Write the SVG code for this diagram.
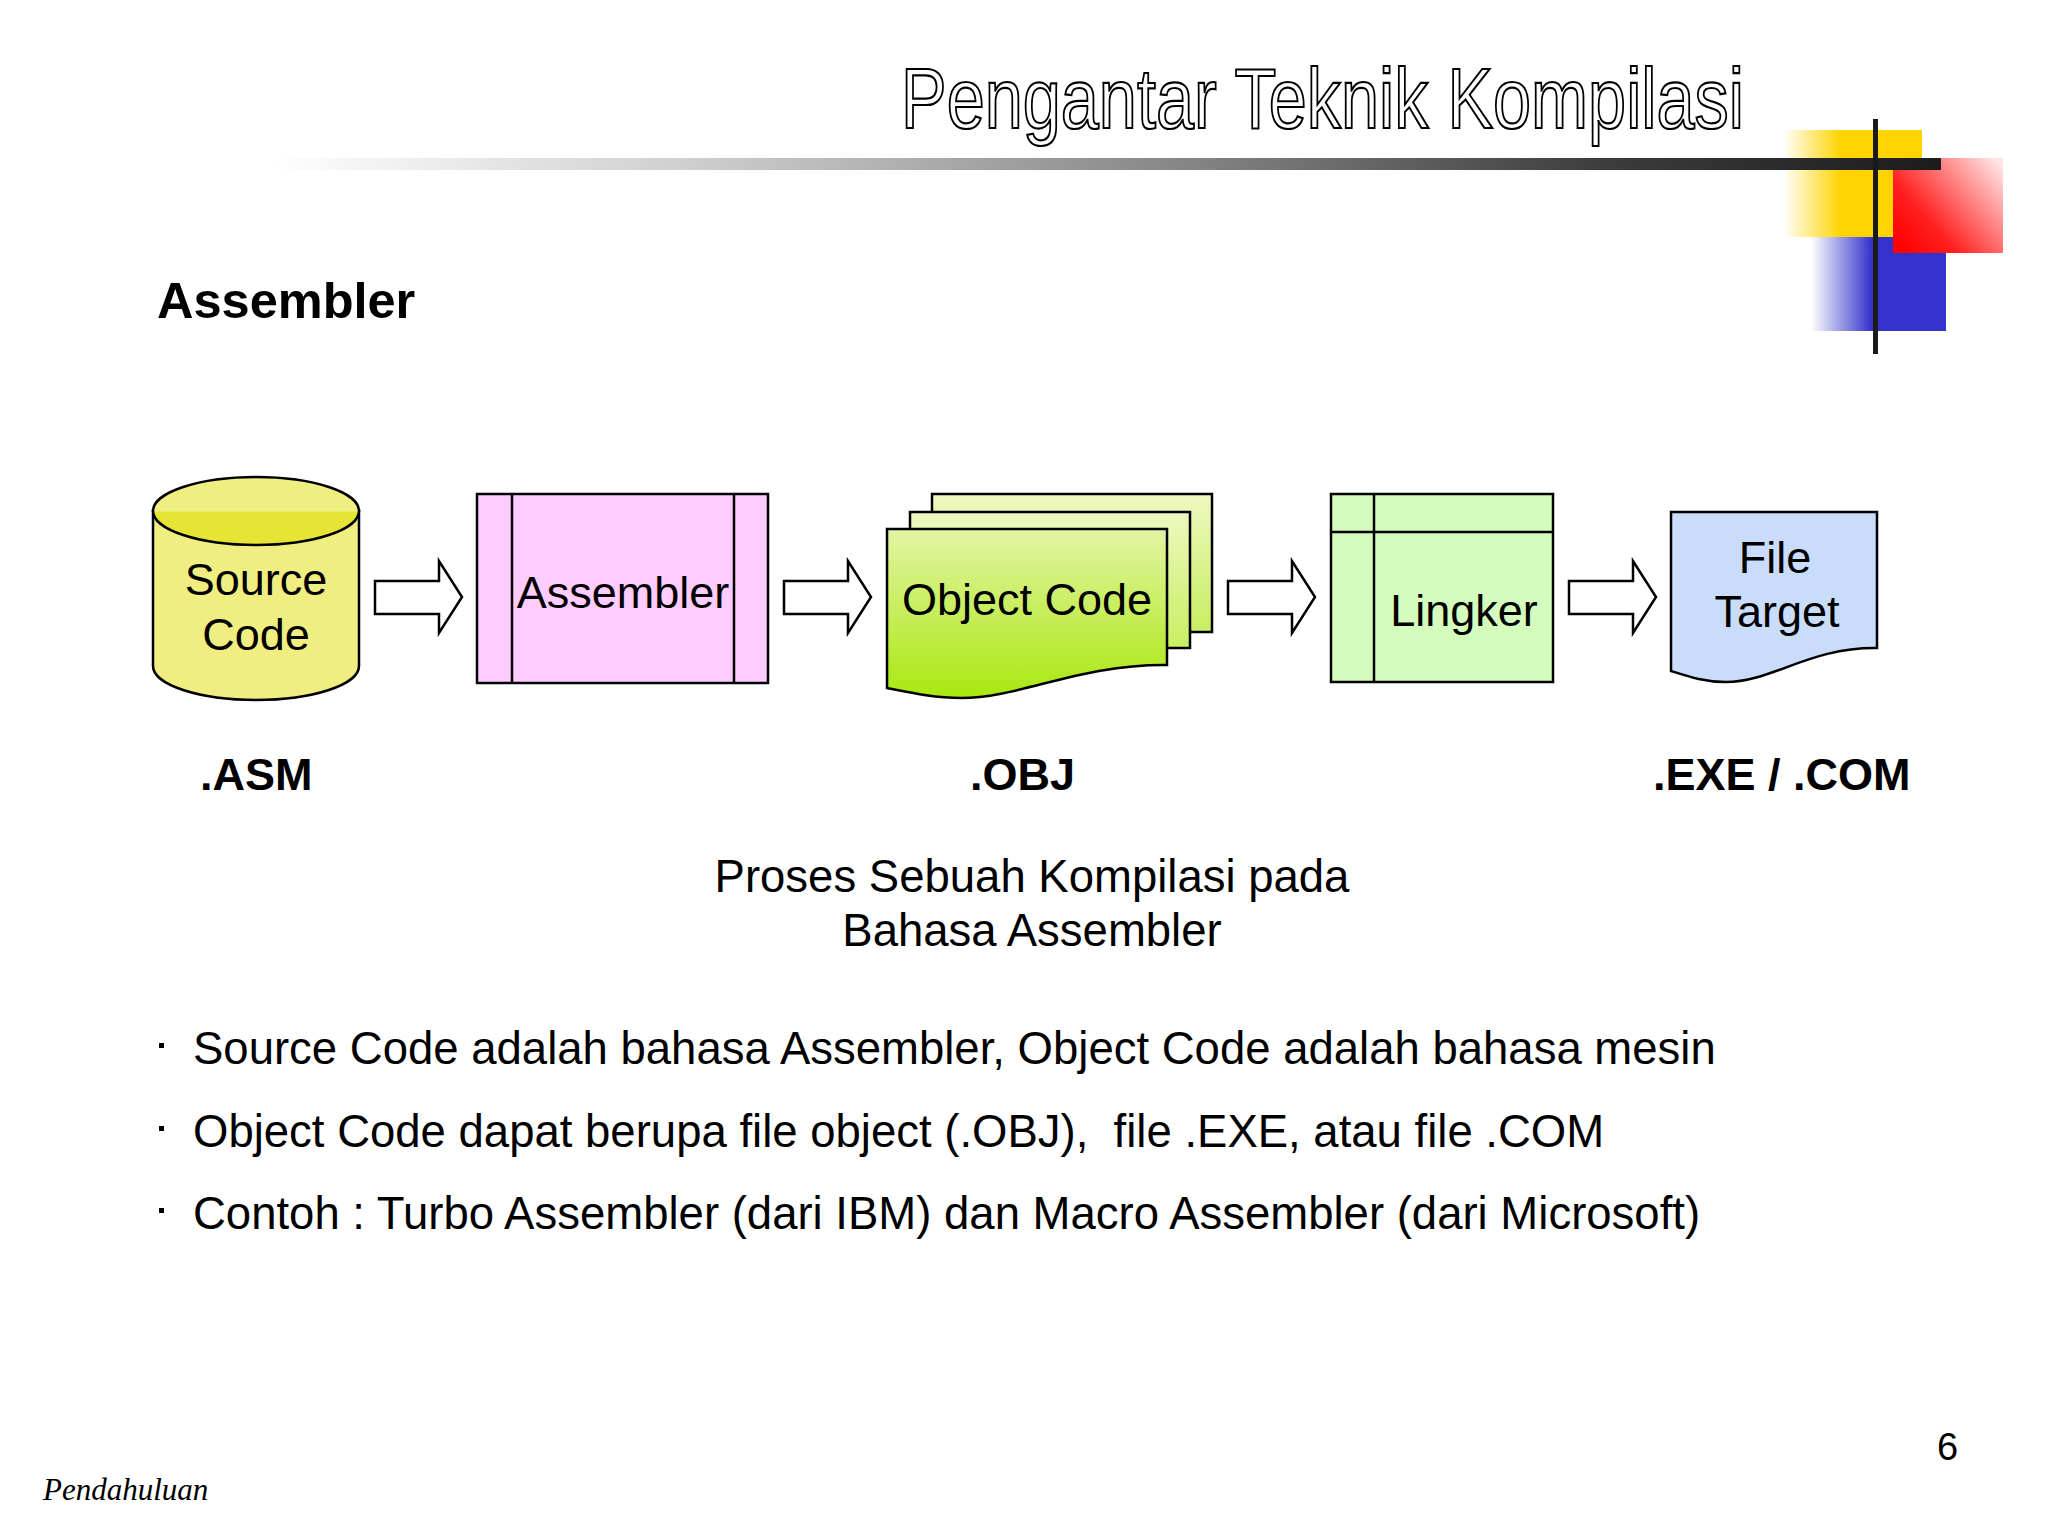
<svg xmlns="http://www.w3.org/2000/svg" width="2048" height="1536" viewBox="0 0 2048 1536">
<defs>
<linearGradient id="barG" x1="0" y1="0" x2="1" y2="0">
<stop offset="0" stop-color="#ffffff"/>
<stop offset="0.25" stop-color="#cfcfcf"/>
<stop offset="0.55" stop-color="#858585"/>
<stop offset="0.8" stop-color="#3c3c3c"/>
<stop offset="1" stop-color="#1c1c1c"/>
</linearGradient>
<linearGradient id="yelG" x1="0" y1="0" x2="1" y2="0">
<stop offset="0" stop-color="#FFD400" stop-opacity="0"/>
<stop offset="0.42" stop-color="#FFD400"/>
<stop offset="1" stop-color="#FFD400"/>
</linearGradient>
<linearGradient id="bluG" x1="0" y1="0" x2="1" y2="0">
<stop offset="0" stop-color="#3333CC" stop-opacity="0"/>
<stop offset="0.45" stop-color="#3333CC"/>
<stop offset="1" stop-color="#3333CC"/>
</linearGradient>
<linearGradient id="redG" x1="0" y1="0.85" x2="1" y2="0.1">
<stop offset="0" stop-color="#FF0000"/>
<stop offset="0.3" stop-color="#FF2020"/>
<stop offset="1" stop-color="#FFE4E4"/>
</linearGradient>
<linearGradient id="cylTop" x1="0" y1="0" x2="0" y2="1">
<stop offset="0" stop-color="#F0EE80"/>
<stop offset="0.5" stop-color="#F0EE80"/>
<stop offset="0.52" stop-color="#E6E434"/>
<stop offset="1" stop-color="#E6E434"/>
</linearGradient>
<linearGradient id="objFront" x1="0" y1="0" x2="0" y2="1">
<stop offset="0" stop-color="#E4F4A4"/>
<stop offset="1" stop-color="#A8E810"/>
</linearGradient>
<linearGradient id="objBack" x1="0" y1="0" x2="0" y2="1">
<stop offset="0" stop-color="#EEF8C0"/>
<stop offset="1" stop-color="#C8EE60"/>
</linearGradient>
<path id="blockArrow" d="M0,20 H64 V0 L87,36 L64,72 V53 H0 Z"/>
</defs>
<style>
.ln{stroke:#000;stroke-width:2.5}
.lbl{font-family:"Liberation Sans",Arial,sans-serif;font-size:45px;fill:#000}
.body{font-size:45.5px}
.b{font-weight:bold}
.arrow{fill:#fff;stroke:#000;stroke-width:2.5;stroke-linejoin:miter}
</style>
<rect width="2048" height="1536" fill="#ffffff"/>

<g id="header">
<text x="901" y="128" font-family="'Liberation Sans',Arial,sans-serif" font-size="85" fill="#fff" stroke="#000" stroke-width="2.2" textLength="843" lengthAdjust="spacingAndGlyphs">Pengantar Teknik Kompilasi</text>
<rect x="1783" y="130" width="139" height="107" fill="url(#yelG)"/>
<rect x="1811" y="237" width="135" height="94" fill="url(#bluG)"/>
<rect x="1893" y="158" width="110" height="95" fill="url(#redG)"/>
<rect x="268" y="158" width="1673" height="12" fill="url(#barG)"/>
<rect x="1873" y="119" width="5" height="235" fill="#1a1a1a"/>
</g>

<text x="157" y="318" class="lbl b" style="font-size:50.5px">Assembler</text>

<g id="source-code">
<path d="M153,511 V666 A103,34 0 0 0 359,666 V511 Z" fill="#F0EE80" class="ln"/>
<ellipse cx="256" cy="511" rx="103" ry="34" fill="url(#cylTop)" class="ln"/>
<text x="256" y="595" class="lbl" text-anchor="middle">Source</text>
<text x="256" y="650" class="lbl" text-anchor="middle">Code</text>
</g>

<g id="assembler">
<rect x="477" y="494" width="291" height="189" fill="#FFCCFF" class="ln"/>
<line x1="512" y1="494" x2="512" y2="683" class="ln"/>
<line x1="734" y1="494" x2="734" y2="683" class="ln"/>
<text x="623" y="608" class="lbl" text-anchor="middle">Assembler</text>
</g>

<g id="object-code">
<path d="M932,494 H1212 V632 H932 Z" fill="url(#objBack)" class="ln"/>
<path d="M910,512 H1190 V648 H910 Z" fill="url(#objBack)" class="ln"/>
<path d="M887,529 H1167 V665 C1080,664 1020,698 961,698 C935,698 912,693 887,688 Z" fill="url(#objFront)" class="ln"/>
<text x="1027" y="615" class="lbl" text-anchor="middle">Object Code</text>
</g>

<g id="lingker">
<rect x="1331" y="494" width="222" height="188" fill="#D4FCBC" class="ln"/>
<line x1="1331" y1="532" x2="1553" y2="532" class="ln"/>
<line x1="1374" y1="494" x2="1374" y2="682" class="ln"/>
<text x="1464" y="626" class="lbl" text-anchor="middle">Lingker</text>
</g>

<g id="file-target">
<path d="M1671,512 H1877 V648 C1810,647 1772,682 1726,682 C1705,682 1690,677 1671,671 Z" fill="#C9DCFA" class="ln"/>
<text x="1775" y="573" class="lbl" text-anchor="middle">File</text>
<text x="1777" y="627" class="lbl" text-anchor="middle">Target</text>
</g>

<g id="connectors">
<use href="#blockArrow" x="375" y="561" class="arrow"/>
<use href="#blockArrow" x="784" y="561" class="arrow"/>
<use href="#blockArrow" x="1228" y="561" class="arrow"/>
<use href="#blockArrow" x="1569" y="561" class="arrow"/>
</g>

<g id="ext-labels">
<text x="200" y="790" class="lbl b">.ASM</text>
<text x="970" y="790" class="lbl b">.OBJ</text>
<text x="1653" y="790" class="lbl b">.EXE / .COM</text>
</g>

<g id="caption">
<text x="1032" y="892" class="lbl body" text-anchor="middle">Proses Sebuah Kompilasi pada</text>
<text x="1032" y="946" class="lbl body" text-anchor="middle">Bahasa Assembler</text>
</g>

<g id="bullets">
<rect x="159" y="1043" width="5" height="5" fill="#000"/>
<rect x="159" y="1126" width="5" height="5" fill="#000"/>
<rect x="159" y="1208" width="5" height="5" fill="#000"/>
<text x="193" y="1064" class="lbl body">Source Code adalah bahasa Assembler, Object Code adalah bahasa mesin</text>
<text x="193" y="1147" class="lbl body" xml:space="preserve">Object Code dapat berupa file object (.OBJ),  file .EXE, atau file .COM</text>
<text x="193" y="1229" class="lbl body">Contoh : Turbo Assembler (dari IBM) dan Macro Assembler (dari Microsoft)</text>
</g>

<text x="1937" y="1460" font-family="'Liberation Sans',Arial,sans-serif" font-size="38" fill="#000">6</text>
<text x="43" y="1500" font-family="'Liberation Serif','Times New Roman',serif" font-style="italic" font-size="31" fill="#000">Pendahuluan</text>
</svg>
